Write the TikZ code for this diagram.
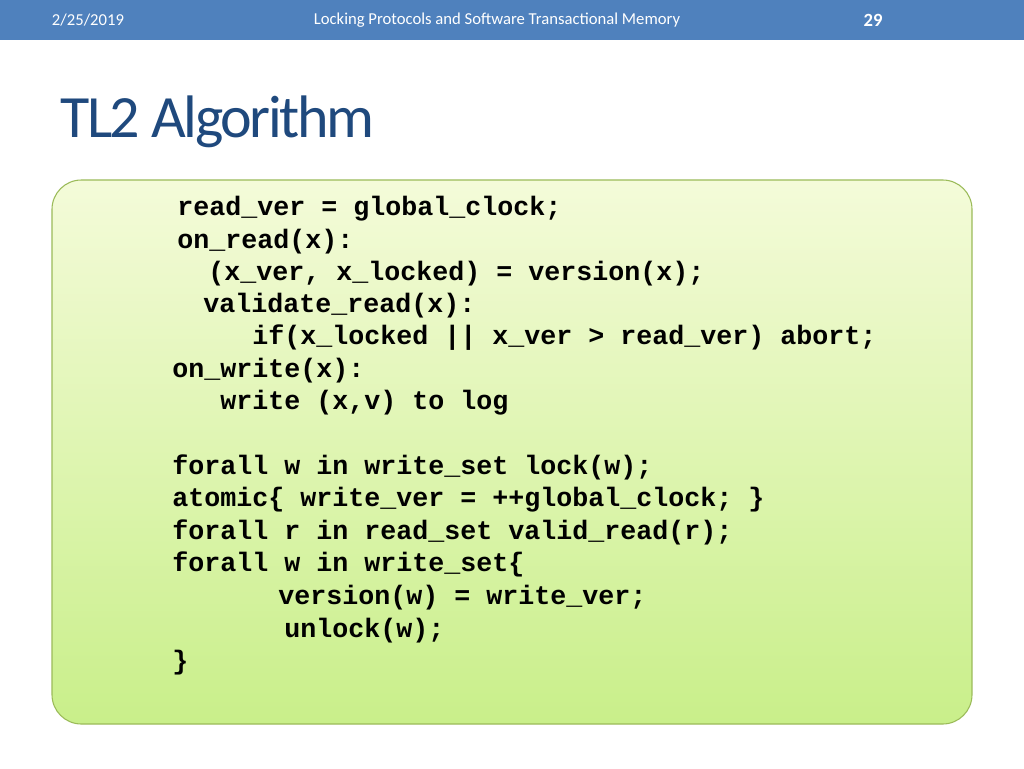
\documentclass[tikz,border=0pt]{standalone}
\usepackage{fontspec}
\setmainfont{Carlito}
\newfontfamily\codefont{Liberation Mono}
\newfontfamily\titlefont[LetterSpace=-4]{Carlito}
\definecolor{barblue}{HTML}{4F81BD}
\definecolor{titleblue}{HTML}{1F497D}
\definecolor{boxedge}{HTML}{9BBB59}
\definecolor{boxtop}{HTML}{F4FBD9}
\definecolor{boxbot}{HTML}{C9EF8A}
\tikzset{
  codeline/.style={anchor=base west, inner sep=0pt, font=\codefont\bfseries\fontsize{20}{24}\selectfont},
  headtext/.style={text=white, font=\fontsize{12.5}{15}\selectfont}
}
\begin{document}
\begin{tikzpicture}[x=0.75pt,y=-0.75pt]
\useasboundingbox (0,0) rectangle (1024,768);
\fill[white] (0,0) rectangle (1024,768);
% header bar
\fill[barblue] (0,0) rectangle (1024,40);
\node[headtext] (date) at (88,20) {2/25/2019};
\node[headtext] (topic) at (497,20) {Locking Protocols and Software Transactional Memory};
\node[headtext, font=\bfseries\fontsize{14}{16}\selectfont] (page) at (873,20) {29};
% title
\node[anchor=base west, inner sep=0pt, text=titleblue, font=\titlefont\fontsize{45}{52}\selectfont] (title) at (60,137) {TL2 Algorithm};
% code box
\shade[top color=boxtop, bottom color=boxbot, draw=boxedge, line width=0.8pt, rounded corners=22pt]
  (52,180) rectangle (972,724);
% code lines
\node[codeline] (l1) at (177,215) {read\_ver = global\_clock;};
\node[codeline] (l2) at (177,248) {on\_read(x):};
\node[codeline] (l3) at (208,280) {(x\_ver, x\_locked) = version(x);};
\node[codeline] (l4) at (203,312) {validate\_read(x):};
\node[codeline] (l5) at (252,344) {if(x\_locked || x\_ver > read\_ver) abort;};
\node[codeline] (l6) at (172,377) {on\_write(x):};
\node[codeline] (l7) at (220,409) {write (x,v) to log};
\node[codeline] (l8) at (172,474) {forall w in write\_set lock(w);};
\node[codeline] (l9) at (172,506) {atomic\{ write\_ver = ++global\_clock; \}};
\node[codeline] (l10) at (172,539) {forall r in read\_set valid\_read(r);};
\node[codeline] (l11) at (172,571) {forall w in write\_set\{};
\node[codeline] (l12) at (278,604) {version(w) = write\_ver;};
\node[codeline] (l13) at (284,637) {unlock(w);};
\node[codeline] (l14) at (172,669) {\}};
\end{tikzpicture}
\end{document}
